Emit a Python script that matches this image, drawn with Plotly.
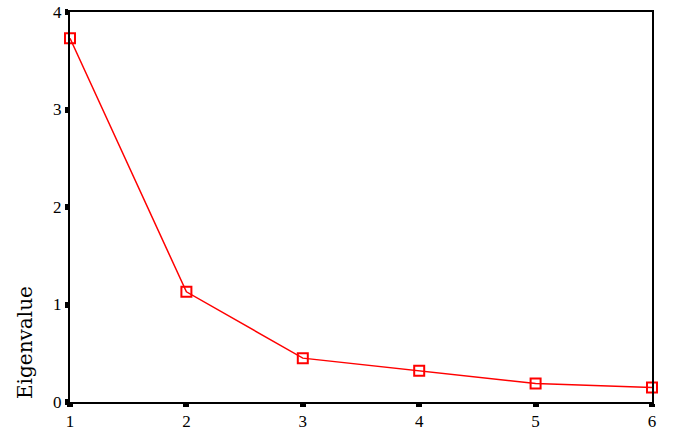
import plotly.graph_objects as go

components = [1, 2, 3, 4, 5, 6]
eigenvalues = [3.73, 1.13, 0.45, 0.32, 0.19, 0.15]
y_ticks = [0, 1, 2, 3, 4]

W, H = 680, 447
L, R, T, B = 70, 28, 12, 45

fig = go.Figure()
fig.add_trace(go.Scatter(
    x=components, y=eigenvalues, mode="lines+markers",
    line=dict(color="#ff0000", width=1.5),
    marker=dict(symbol="square-open", size=10, color="#ff0000", line=dict(width=2)),
    showlegend=False, cliponaxis=False,
))

font = dict(family="Liberation Serif", size=17, color="black")
pw = W - L - R
ph = H - T - B
fig.update_layout(
    width=W, height=H,
    margin=dict(l=L, r=R, t=T, b=B, autoexpand=False),
    paper_bgcolor="white", plot_bgcolor="white",
    font=font,
    xaxis=dict(range=[1, 6], tickvals=components, showgrid=False, zeroline=False,
               showline=True, linecolor="black", linewidth=2, mirror=True,
               ticks="outside", ticklen=3, tickwidth=6, tickcolor="black",
               automargin=False),
    yaxis=dict(range=[0, 4], tickvals=y_ticks, showgrid=False, zeroline=False,
               showline=True, linecolor="black", linewidth=2, mirror=True,
               ticks="outside", ticklen=3, tickwidth=6, tickcolor="black",
               automargin=False),
    annotations=[dict(text="Eigenvalue", x=(25 - L) / pw, y=(H - B - 343) / ph,
                      xref="paper", yref="paper", xanchor="center", yanchor="middle",
                      showarrow=False, textangle=-90,
                      font=dict(family="DejaVu Serif", size=20, color="black"))],
)
fig.write_html("out.html", config={"displayModeBar": False})
with open("out.html", encoding="utf-8") as f:
    html = f.read()
html = html.replace("<body>", '<body style="margin:0;padding:0;">', 1)
with open("out.html", "w", encoding="utf-8") as f:
    f.write(html)
